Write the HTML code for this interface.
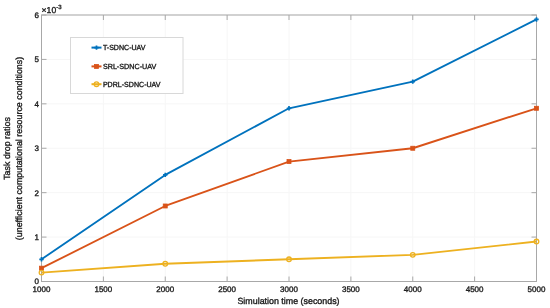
<!DOCTYPE html><html><head><meta charset="utf-8"><style>html,body{margin:0;padding:0;background:#fff;overflow:hidden}svg{display:block;text-rendering:geometricPrecision}text{font-family:"Liberation Sans",Arial,sans-serif;fill:#1a1a1a;stroke:#1a1a1a;stroke-width:0.35px}</style></head><body>
<svg width="550" height="308" viewBox="0 0 550 308">
<rect width="550" height="308" fill="#fff"/>
<path d="M41.50 15.0V281.5 M103.38 15.0V281.5 M165.25 15.0V281.5 M227.12 15.0V281.5 M289.00 15.0V281.5 M350.88 15.0V281.5 M412.75 15.0V281.5 M474.62 15.0V281.5 M536.50 15.0V281.5 M41.5 281.50H536.5 M41.5 237.08H536.5 M41.5 192.67H536.5 M41.5 148.25H536.5 M41.5 103.83H536.5 M41.5 59.42H536.5 M41.5 15.00H536.5" stroke="#f6f6f6" stroke-width="1" fill="none"/>
<path d="M41.50 281.5V276.5M41.50 15.0V20.0 M103.38 281.5V276.5M103.38 15.0V20.0 M165.25 281.5V276.5M165.25 15.0V20.0 M227.12 281.5V276.5M227.12 15.0V20.0 M289.00 281.5V276.5M289.00 15.0V20.0 M350.88 281.5V276.5M350.88 15.0V20.0 M412.75 281.5V276.5M412.75 15.0V20.0 M474.62 281.5V276.5M474.62 15.0V20.0 M536.50 281.5V276.5M536.50 15.0V20.0 M41.5 281.50H46.5M536.5 281.50H531.5 M41.5 237.08H46.5M536.5 237.08H531.5 M41.5 192.67H46.5M536.5 192.67H531.5 M41.5 148.25H46.5M536.5 148.25H531.5 M41.5 103.83H46.5M536.5 103.83H531.5 M41.5 59.42H46.5M536.5 59.42H531.5 M41.5 15.00H46.5M536.5 15.00H531.5" stroke="#a8a8a8" stroke-width="1" fill="none"/>
<rect x="41.5" y="15.0" width="495.0" height="266.5" fill="none" stroke="#a8a8a8" stroke-width="1"/>
<text x="41.50" y="292.3" font-size="8.0" text-anchor="middle">1000</text>
<text x="103.38" y="292.3" font-size="8.0" text-anchor="middle">1500</text>
<text x="165.25" y="292.3" font-size="8.0" text-anchor="middle">2000</text>
<text x="227.12" y="292.3" font-size="8.0" text-anchor="middle">2500</text>
<text x="289.00" y="292.3" font-size="8.0" text-anchor="middle">3000</text>
<text x="350.88" y="292.3" font-size="8.0" text-anchor="middle">3500</text>
<text x="412.75" y="292.3" font-size="8.0" text-anchor="middle">4000</text>
<text x="474.62" y="292.3" font-size="8.0" text-anchor="middle">4500</text>
<text x="536.50" y="292.3" font-size="8.0" text-anchor="middle">5000</text>
<text x="39" y="284.40" font-size="8.0" text-anchor="end">0</text>
<text x="39" y="239.98" font-size="8.0" text-anchor="end">1</text>
<text x="39" y="195.57" font-size="8.0" text-anchor="end">2</text>
<text x="39" y="151.15" font-size="8.0" text-anchor="end">3</text>
<text x="39" y="106.73" font-size="8.0" text-anchor="end">4</text>
<text x="39" y="62.32" font-size="8.0" text-anchor="end">5</text>
<text x="39" y="17.90" font-size="8.0" text-anchor="end">6</text>
<text x="41.6" y="12.8" font-size="8.6">×10<tspan font-size="6" dy="-4.2">-3</tspan></text>
<text x="288.5" y="303.5" font-size="8.9" text-anchor="middle">Simulation time (seconds)</text>
<text transform="translate(10.2 148.5) rotate(-90)" font-size="8.9" text-anchor="middle">Task drop ratios</text>
<text transform="translate(21.6 148.5) rotate(-90)" font-size="8.9" text-anchor="middle">(unefficient computational resource conditions)</text>
<polyline points="41.50,259.29 165.25,174.90 289.00,108.28 412.75,81.62 536.50,19.44" fill="none" stroke="#0072BD" stroke-width="1.85" stroke-linejoin="round"/>
<path d="M39.30 259.29H43.70M41.50 257.09V261.49" stroke="#0072BD" stroke-width="1.7" fill="none"/>
<path d="M163.05 174.90H167.45M165.25 172.70V177.10" stroke="#0072BD" stroke-width="1.7" fill="none"/>
<path d="M286.80 108.28H291.20M289.00 106.08V110.48" stroke="#0072BD" stroke-width="1.7" fill="none"/>
<path d="M410.55 81.62H414.95M412.75 79.42V83.83" stroke="#0072BD" stroke-width="1.7" fill="none"/>
<path d="M534.30 19.44H538.70M536.50 17.24V21.64" stroke="#0072BD" stroke-width="1.7" fill="none"/>
<polyline points="41.50,268.18 165.25,205.99 289.00,161.57 412.75,148.25 536.50,108.28" fill="none" stroke="#D95319" stroke-width="1.85" stroke-linejoin="round"/>
<rect x="39.50" y="266.18" width="4.0" height="4.0" fill="#D95319" stroke="#D95319" stroke-width="0.8"/>
<rect x="163.25" y="203.99" width="4.0" height="4.0" fill="#D95319" stroke="#D95319" stroke-width="0.8"/>
<rect x="287.00" y="159.57" width="4.0" height="4.0" fill="#D95319" stroke="#D95319" stroke-width="0.8"/>
<rect x="410.75" y="146.25" width="4.0" height="4.0" fill="#D95319" stroke="#D95319" stroke-width="0.8"/>
<rect x="534.50" y="106.28" width="4.0" height="4.0" fill="#D95319" stroke="#D95319" stroke-width="0.8"/>
<polyline points="41.50,272.62 165.25,263.73 289.00,259.29 412.75,254.85 536.50,241.53" fill="none" stroke="#EDB120" stroke-width="1.85" stroke-linejoin="round"/>
<circle cx="41.50" cy="272.62" r="2.3" fill="none" stroke="#EDB120" stroke-width="1.3"/>
<circle cx="165.25" cy="263.73" r="2.3" fill="none" stroke="#EDB120" stroke-width="1.3"/>
<circle cx="289.00" cy="259.29" r="2.3" fill="none" stroke="#EDB120" stroke-width="1.3"/>
<circle cx="412.75" cy="254.85" r="2.3" fill="none" stroke="#EDB120" stroke-width="1.3"/>
<circle cx="536.50" cy="241.53" r="2.3" fill="none" stroke="#EDB120" stroke-width="1.3"/>
<rect x="70.5" y="37.5" width="112.5" height="56" fill="#fff" stroke="#d8d8d8" stroke-width="1"/>
<path d="M91.5 47.6H101.5" stroke="#0072BD" stroke-width="2"/>
<path d="M94.30 47.60H98.70M96.50 45.40V49.80" stroke="#0072BD" stroke-width="1.7" fill="none"/>
<text x="102.9" y="50.40" textLength="42.6" lengthAdjust="spacingAndGlyphs" font-size="7.45">T-SDNC-UAV</text>
<path d="M91.5 66.4H101.5" stroke="#D95319" stroke-width="2"/>
<rect x="94.50" y="64.40" width="4.0" height="4.0" fill="#D95319" stroke="#D95319" stroke-width="0.8"/>
<text x="102.9" y="69.20" textLength="53.4" lengthAdjust="spacingAndGlyphs" font-size="7.45">SRL-SDNC-UAV</text>
<path d="M91.5 84.2H101.5" stroke="#EDB120" stroke-width="2"/>
<circle cx="96.50" cy="84.20" r="2.3" fill="none" stroke="#EDB120" stroke-width="1.3"/>
<text x="102.9" y="87.00" textLength="57.6" lengthAdjust="spacingAndGlyphs" font-size="7.45">PDRL-SDNC-UAV</text>
</svg></body></html>
